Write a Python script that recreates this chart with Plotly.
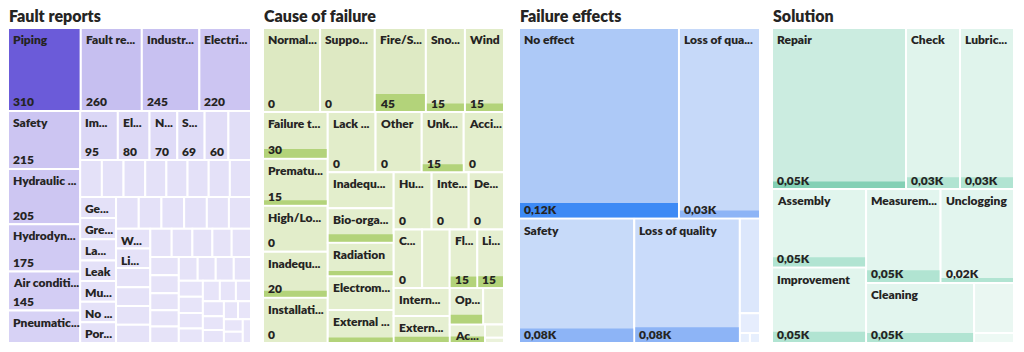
import plotly.graph_objects as go

# ---------------- data ----------------
# Fault reports (tile size = number of reports)
fr_labels = ["Piping", "Fault re...", "Industr...", "Electri...", "Safety", "Hydraulic ...",
             "Hydrodyn...", "Air conditi...", "Pneumatic...", "Im...", "El...", "N...", "S...", "", "",
             "", "", "", "", "", "", "", "",
             "Ge...", "Gre...", "La...", "Leak", "Mu...", "No ...", "Por...",
             "", "", "", "", "", "",
             "W...", "Li...",
             "", "", "", "", "", "", "", "", "", "", "", "", "", "", "", "", "",
             "", "", "", "", "", "", "", "", "", "", "", "", "", "", "", "", ""]
fr_sizes = [310, 260, 245, 220, 215, 205, 175, 145, 120, 95, 80, 70, 69, 60, 57,
            41, 41, 41, 40, 40, 40, 40, 40,
            39, 39, 39, 38, 38, 38, 38,
            37, 37, 37, 37, 36, 36,
            35, 34,
            34, 33, 33, 32, 31, 30, 29, 28, 28, 27, 26, 25, 24, 24, 23, 22, 22,
            21, 20, 20, 19, 18, 18, 17, 16, 16, 15, 14, 13, 12, 12, 11, 10]
fr_shown = ["310", "260", "245", "220", "215", "205", "175", "145", "", "95", "80", "70", "69", "60", ""]
fr_values = None  # value equals tile size, no bars

# Cause of failure
cf_labels = ["Normal...", "Suppo...", "Fire/S...", "Sno...", "Wind", "Failure t...", "Prematu...",
             "High/Lo...", "Inadequ...", "Installati...", "Lack ...", "Other", "Unk...", "Acci...",
             "Inadequ...", "Bio-orga...", "Radiation", "Electrom...", "External ...", "Hu...", "Inte...",
             "De...", "C...", "", "Fl...", "Li...", "Intern...", "Extern...", "Op...", "", "Ac...", "", ""]
cf_sizes = [95, 91, 85, 65, 65, 60, 60, 59, 59, 58, 57, 55, 50, 48, 47, 45, 44, 44, 43, 43, 42,
            40, 33, 32, 32, 31, 31, 30, 24, 15, 13, 5, 2]
cf_values = [0, 0, 45, 15, 15, 30, 15, 0, 20, 0, 0, 0, 15, 0,
             0, 25, 15, 0, 15, 0, 0, 0, 0, 0, 15, 15, 0, 15, 15, 0, 10, 0, 0]
cf_shown = ["0", "0", "45", "15", "15", "30", "15", "0", "20", "0", "0", "0", "15", "0",
            "", "", "", "", "", "0", "0", "0", "0", "", "15", "15", "", "", "", "", "", "", ""]

# Failure effects
fe_labels = ["No effect", "Loss of qua...", "Safety", "Loss of quality", "", "", "", ""]
fe_sizes = [304, 154, 143, 131, 19, 4, 1, 1]
fe_values = [120, 30, 80, 80, 0, 0, 0, 0]
fe_shown = ["0,12K", "0,03K", "0,08K", "0,08K", "", "", "", ""]

# Solution
so_labels = ["Repair", "Check", "Lubric...", "Assembly", "Improvement", "Measurem...",
             "Unclogging", "Cleaning", "", ""]
so_sizes = [216, 87, 87, 74, 71, 70, 69, 65, 20, 4]
so_values = [45, 30, 30, 45, 50, 45, 15, 50, 0, 0]
so_shown = ["0,05K", "0,03K", "0,03K", "0,05K", "0,05K", "0,05K", "0,02K", "0,05K", "", ""]

titles = ["Fault reports", "Cause of failure", "Failure effects", "Solution"]

# ---------------- styling ----------------
W, H = 1024, 352
FONT = "Lato"
TXT = "#252423"
panels_px = [(8, 251), (263, 504), (519, 760), (772, 1014)]
top_px, bot_px = 28, 343
RATIO = 1.618

scales = [
    [[0, "#e9e6f9"], [0.13, "#e4e1f8"], [0.3, "#dbd7f6"], [0.45, "#d4cef4"],
     [0.7, "#ccc5f2"], [0.85, "#c6bef0"], [0.9, "#a497e8"], [1, "#6b5bd9"]],
    [[0, "#ebf2dc"], [0.3, "#e5efd1"], [0.6, "#e2edca"], [1, "#dde9c2"]],
    [[0, "#e8effd"], [0.07, "#dbe6fc"], [0.43, "#c9dbfa"], [0.5, "#c6d9f9"], [1, "#adc9f7"]],
    [[0, "#eef9f5"], [0.1, "#eaf7f2"], [0.3, "#e2f5ee"], [0.41, "#e0f4ec"], [1, "#cbece0"]],
]
bar_colors = [(None, None), ("#b3d37a", "#b3d37a"), ("#3d8af5", "#8db4f6"), ("#84d0b5", "#b1e4d2")]


def squarify(vals, x0, y0, x1, y1, ratio):
    """Same squarified tiling as the treemap trace uses (d3 squarify)."""
    rects = [None] * len(vals)
    value = float(sum(vals))
    n, i0 = len(vals), 0
    while i0 < n:
        dx, dy = x1 - x0, y1 - y0
        i1 = i0
        sumv = vals[i1]
        i1 += 1
        minv = maxv = sumv
        alpha = max(dy / dx, dx / dy) / (value * ratio)
        beta = sumv * sumv * alpha
        min_ratio = max(maxv / beta, beta / minv)
        while i1 < n:
            nv = vals[i1]
            sumv += nv
            minv, maxv = min(minv, nv), max(maxv, nv)
            beta = sumv * sumv * alpha
            new_ratio = max(maxv / beta, beta / minv)
            if new_ratio > min_ratio:
                sumv -= nv
                break
            min_ratio = new_ratio
            i1 += 1
        if dx < dy:
            ny = y0 + dy * sumv / value
            xx = x0
            for i in range(i0, i1):
                w = dx * vals[i] / sumv
                rects[i] = (xx, y0, xx + w, ny)
                xx += w
            y0 = ny
        else:
            nx = x0 + dx * sumv / value
            yy = y0
            for i in range(i0, i1):
                h = dy * vals[i] / sumv
                rects[i] = (x0, yy, nx, yy + h)
                yy += h
            x0 = nx
        value -= sumv
        i0 = i1
    return rects


data = [(fr_labels, fr_sizes, fr_shown, fr_values), (cf_labels, cf_sizes, cf_shown, cf_values),
        (fe_labels, fe_sizes, fe_shown, fe_values), (so_labels, so_sizes, so_shown, so_values)]

total_reports = sum(fr_sizes)
tile_font = dict(family=FONT, size=12, color=TXT, weight=800)

fig = go.Figure()
annotations = []
shapes = []
for k, ((labels, sizes, shown, values), (x0, x1), cs, title) in enumerate(zip(data, panels_px, scales, titles)):
    n = len(sizes)
    root = f"root{k}"
    ids = [root] + [f"p{k}_{i}" for i in range(n)]
    parents = [""] + [root] * n
    vals = [sum(sizes)] + list(sizes)
    dom = dict(x=[x0 / W, x1 / W], y=[1 - bot_px / H, 1 - top_px / H])
    fig.add_trace(go.Treemap(
        ids=ids, labels=ids, parents=parents, values=vals, branchvalues="total",
        domain=dom, sort=True,
        tiling=dict(packing="squarify", squarifyratio=RATIO, pad=0),
        pathbar=dict(visible=False), hoverinfo="skip", textinfo="none",
        root=dict(color="rgba(0,0,0,0)"),
        marker=dict(colors=[0] + list(sizes), colorscale=cs, cmin=0, cmax=max(sizes),
                    pad=dict(t=0, l=0, r=0, b=0),
                    line=dict(color="white", width=2), showscale=False),
    ))

    # tile rectangles (same layout as the trace), used for bars and tile texts
    pw, ph = x1 - x0, bot_px - top_px
    order = sorted(range(n), key=lambda i: -sizes[i])
    srt = [sizes[i] for i in order]
    rr = squarify(srt, 0.0, 0.0, float(pw), float(ph), RATIO)
    rects = [None] * n
    for j, i in enumerate(order):
        a, b, c, d = rr[j]
        rects[i] = (x0 + a, top_px + b, x0 + c, top_px + d)

    px_per_unit = (pw * ph) / total_reports
    if values is not None:
        hi, lo = bar_colors[k]
        for i, v in enumerate(values):
            if not v:
                continue
            rx0, ry0, rx1, ry1 = rects[i]
            bh = v * px_per_unit / (rx1 - rx0)
            shapes.append(dict(type="rect", xref="paper", yref="paper", layer="above",
                               x0=(rx0 + 1) / W, x1=(rx1 - 1) / W,
                               y0=1 - (ry1 - 1) / H, y1=1 - (ry1 - 1 - bh) / H,
                               fillcolor=hi if i == 0 else lo, line=dict(width=0)))
    for i, s in enumerate(labels):
        if not s:
            continue
        rx0, ry0, rx1, ry1 = rects[i]
        annotations.append(dict(text=s, x=(rx0 + 4) / W, y=1 - (ry0 + 3) / H, xref="paper", yref="paper",
                                xanchor="left", yanchor="top", showarrow=False, borderpad=0,
                                font=tile_font))
    for i, s in enumerate(shown):
        if not s:
            continue
        rx0, ry0, rx1, ry1 = rects[i]
        annotations.append(dict(text=s, x=(rx0 + 4) / W, y=1 - (ry1 - 0.5) / H, xref="paper", yref="paper",
                                xanchor="left", yanchor="bottom", showarrow=False, borderpad=0,
                                font=tile_font))

    annotations.append(dict(text=title, x=(x0 - 1) / W, y=1 - 16 / H, xref="paper", yref="paper",
                            xanchor="left", yanchor="middle", showarrow=False,
                            font=dict(family=FONT, size=16, color=TXT, weight=800)))

fig.update_layout(width=W, height=H, margin=dict(l=0, r=0, t=0, b=0),
                  paper_bgcolor="white", plot_bgcolor="white",
                  annotations=annotations, shapes=shapes,
                  font=dict(family=FONT, color=TXT))
fig.write_html("out.html")
